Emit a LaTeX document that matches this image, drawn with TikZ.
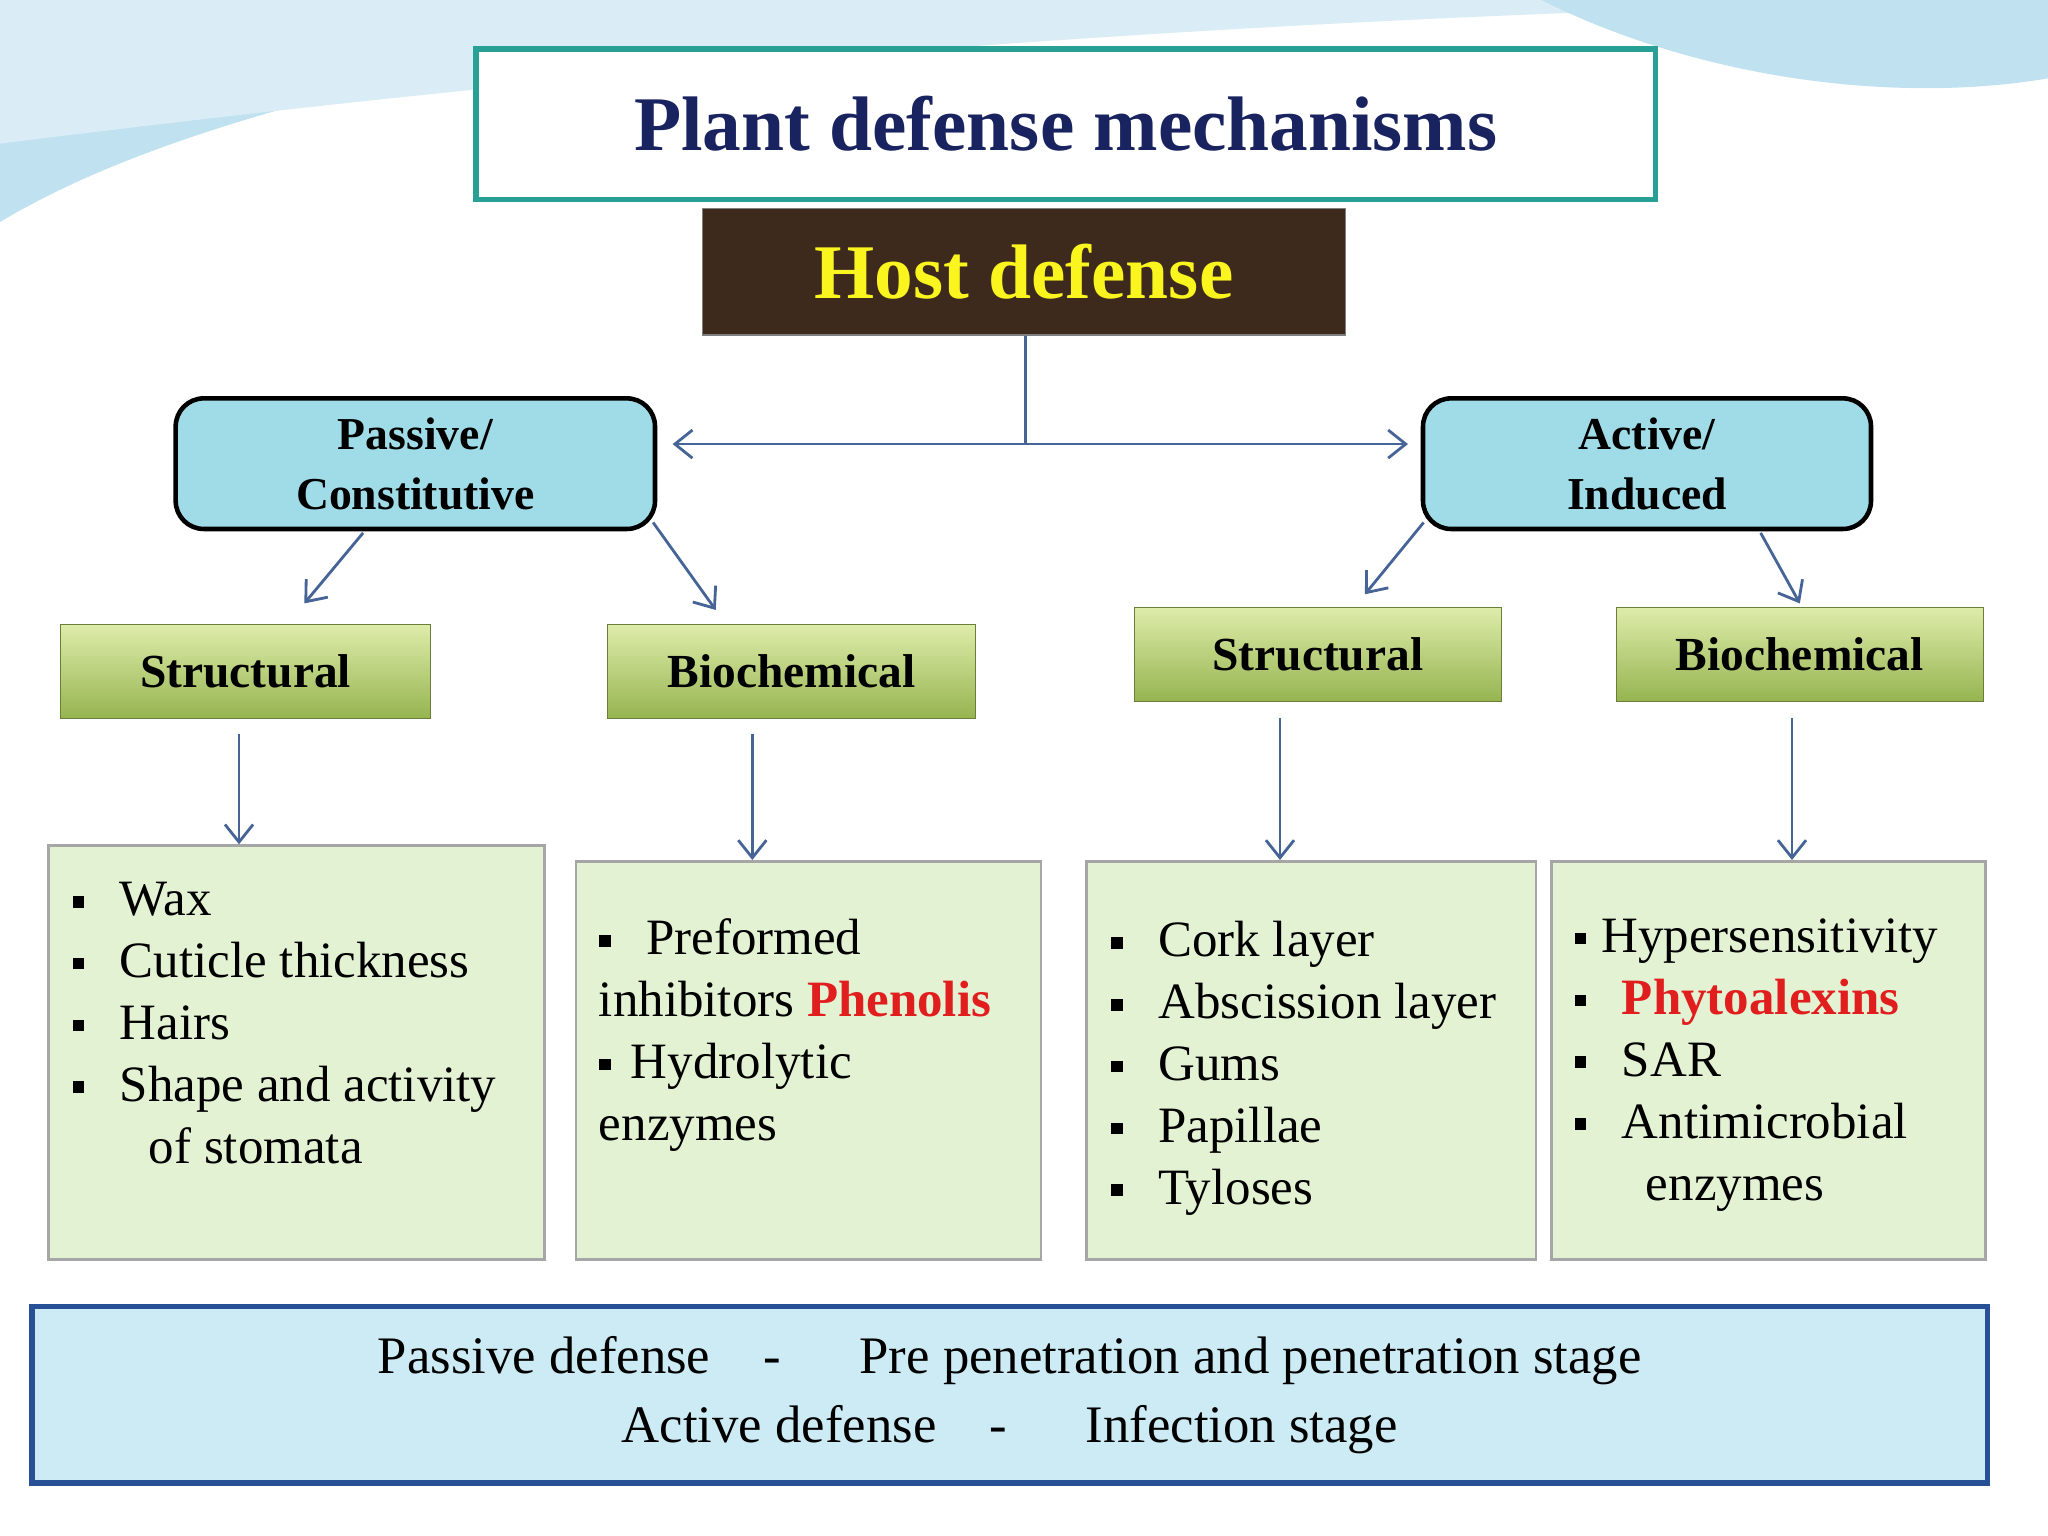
\documentclass[tikz,border=0pt]{standalone}
\usepackage{fontspec}
\setmainfont{Liberation Serif}
\usetikzlibrary{arrows.meta}
\newcommand{\sqb}{\rule[0.35ex]{0.5ex}{0.5ex}\hspace{0.7em}}
\definecolor{titleedge}{RGB}{40,160,150}
\definecolor{titleblue}{RGB}{25,35,95}
\definecolor{hostbrown}{RGB}{62,42,28}
\definecolor{hostyellow}{RGB}{250,245,30}
\definecolor{kindfill}{RGB}{160,220,232}
\definecolor{greenlight}{RGB}{222,236,170}
\definecolor{greendark}{RGB}{150,180,80}
\definecolor{listfill}{RGB}{228,242,212}
\definecolor{bottomfill}{RGB}{205,235,245}
\definecolor{bottomedge}{RGB}{40,80,150}
\definecolor{swoosh}{RGB}{150,205,230}
\definecolor{arrowblue}{RGB}{70,100,150}
\definecolor{phenred}{RGB}{225,30,30}
\tikzset{
  kind/.style={draw=black, line width=1.3pt, rounded corners=8pt, fill=kindfill,
    align=center, font=\bfseries\fontsize{13}{17}\selectfont},
  part/.style={draw=greendark!70!black, top color=greenlight, bottom color=greendark,
    font=\bfseries\fontsize{13.5}{16}\selectfont, inner sep=0pt},
  list/.style={draw=gray!70, line width=0.8pt, fill=listfill, inner sep=0pt},
  listtext/.style={anchor=north west, align=left, font=\fontsize{14.5}{17.6}\selectfont, inner sep=0pt},
  link/.style={draw=arrowblue, line width=0.8pt, -{Straight Barb[length=5pt,width=8pt]}}
}
\begin{document}
\begin{tikzpicture}[x=0.013061cm, y=-0.013061cm]
\useasboundingbox (0,0) rectangle (1568,1176);
% background
\fill[white] (0,0) rectangle (1568,1176);
\fill[swoosh!60] (0,0) -- (600,0) .. controls (400,40) and (150,80) .. (0,170) -- cycle;
\fill[swoosh!35] (0,0) -- (1568,0) .. controls (900,10) and (400,60) .. (0,110) -- cycle;
\fill[swoosh!60] (1568,0) -- (1180,0) .. controls (1300,60) and (1450,80) .. (1568,60) -- cycle;
% title and host
\node[draw=titleedge, line width=1.5pt, fill=white, minimum width=903*0.013061cm, minimum height=115*0.013061cm,
  font=\bfseries\fontsize{22}{26}\selectfont, text=titleblue] (title) at (816,95) {Plant defense mechanisms};
\node[draw=gray, fill=hostbrown, minimum width=492*0.013061cm, minimum height=97*0.013061cm,
  font=\bfseries\fontsize{22}{26}\selectfont, text=hostyellow] (host) at (784,208) {Host defense};
\node[kind, minimum width=367*0.013061cm, minimum height=100*0.013061cm] (passive) at (318,355) {Passive/\\Constitutive};
\node[kind, minimum width=343*0.013061cm, minimum height=100*0.013061cm] (active) at (1261,355) {Active/\\Induced};
\coordinate (split) at (785,340);
\draw[arrowblue, line width=0.8pt] (host.south -| split) -- (split);
\draw[link] (split) -- (515,340);
\draw[link] (split) -- (1078,340);
% parts
\node[part, minimum width=283*0.013061cm, minimum height=72*0.013061cm] (pstruct) at (188,514) {Structural};
\node[part, minimum width=282*0.013061cm, minimum height=72*0.013061cm] (pbio) at (606,514) {Biochemical};
\node[part, minimum width=281*0.013061cm, minimum height=72*0.013061cm] (astruct) at (1009,501) {Structural};
\node[part, minimum width=281*0.013061cm, minimum height=72*0.013061cm] (abio) at (1378,501) {Biochemical};
\draw[link] (278,408) -- (233,462);
\draw[link] (500,400) -- (548,467);
\draw[link] (1090,400) -- (1045,455);
\draw[link] (1348,408) -- (1378,462);
% lists
\node[list, minimum width=380*0.013061cm, minimum height=317*0.013061cm] (plist) at (227,806) {};
\node[list, minimum width=356*0.013061cm, minimum height=305*0.013061cm] (blist) at (619,812) {};
\node[list, minimum width=344*0.013061cm, minimum height=305*0.013061cm] (slist) at (1004,812) {};
\node[list, minimum width=332*0.013061cm, minimum height=305*0.013061cm] (alist) at (1354,812) {};
\draw[link] (183,562) -- (plist.north -| 183,0);
\draw[link] (576,562) -- (blist.north -| 576,0);
\draw[link] (980,550) -- (slist.north -| 980,0);
\draw[link] (1372,550) -- (alist.north -| 1372,0);
\node[listtext] (ptext) at (55,675) {\sqb Wax\\\sqb Cuticle thickness\\\sqb Hairs\\\sqb Shape and activity\\\hspace{1.5em}of stomata};
\node[listtext] (btext) at (458,703) {\sqb Preformed\\inhibitors \textcolor{phenred}{\bfseries Phenolis}\\\rule[0.35ex]{0.5ex}{0.5ex}\hspace{0.4em}Hydrolytic\\enzymes};
\node[listtext] (stext) at (850,705) {\sqb Cork layer\\\sqb Abscission layer\\\sqb Gums\\\sqb Papillae\\\sqb Tyloses};
\node[listtext] (atext) at (1205,703) {\rule[0.35ex]{0.5ex}{0.5ex}\hspace{0.3em}Hypersensitivity\\\sqb \textcolor{phenred}{\bfseries Phytoalexins}\\\sqb SAR\\\sqb Antimicrobial\\\hspace{1.4em}enzymes};
% bottom note
\node[draw=bottomedge, line width=1.5pt, fill=bottomfill, minimum width=1497*0.013061cm, minimum height=135*0.013061cm,
  font=\fontsize{15}{19.5}\selectfont, align=center] (note) at (773,1068)
  {Passive defense\hspace{1em}-\hspace{1.5em}Pre penetration and penetration stage\\
   Active defense\hspace{1em}-\hspace{1.5em}Infection stage};
\end{tikzpicture}
\end{document}
